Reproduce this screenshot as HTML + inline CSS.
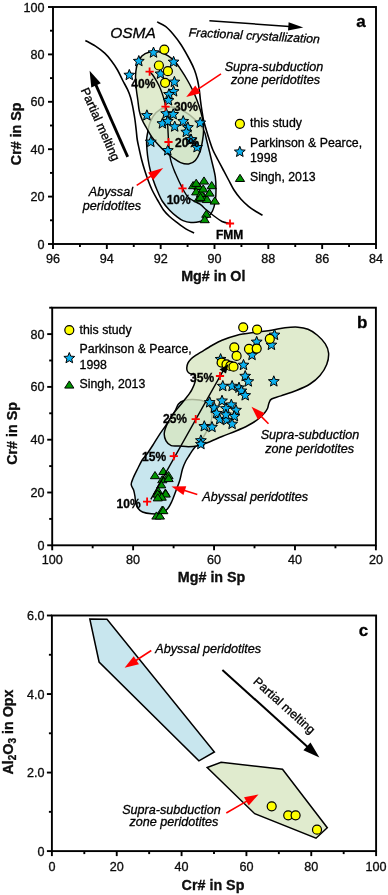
<!DOCTYPE html>
<html><head><meta charset="utf-8"><title>Figure</title>
<style>
html,body{margin:0;padding:0;background:#fff;}
body{width:388px;height:895px;overflow:hidden;}
svg{display:block;}
text{font-family:"Liberation Sans", Arial, sans-serif;stroke:#000;stroke-width:0.3px;}
.tk{font-size:12.60px;fill:#111;}
.ax{font-size:14.3px;font-weight:bold;fill:#111;}
.pl{font-size:17px;font-weight:bold;fill:#000;}
.it{font-style:italic;}
</style></head><body>
<svg width="388" height="895" viewBox="0 0 388 895">
<path d="M147.50,133.50 C148.07,130.58 148.55,126.00 150.00,122.50 C151.45,119.00 153.62,114.98 156.20,112.50 C158.78,110.02 161.90,108.32 165.50,107.60 C169.10,106.88 173.68,106.90 177.80,108.20 C181.92,109.50 186.58,112.68 190.20,115.40 C193.82,118.12 197.12,121.73 199.50,124.50 C201.88,127.27 203.32,129.42 204.50,132.00 C205.68,134.58 205.43,135.33 206.60,140.00 C207.77,144.67 210.05,153.87 211.50,160.00 C212.95,166.13 214.55,171.80 215.30,176.80 C216.05,181.80 216.00,185.97 216.00,190.00 C216.00,194.03 215.88,197.50 215.30,201.00 C214.72,204.50 213.88,208.17 212.50,211.00 C211.12,213.83 209.25,216.20 207.00,218.00 C204.75,219.80 201.68,221.07 199.00,221.80 C196.32,222.53 193.57,222.60 190.90,222.40 C188.23,222.20 185.35,221.57 183.00,220.60 C180.65,219.63 179.03,218.33 176.80,216.60 C174.57,214.87 172.03,212.80 169.60,210.20 C167.17,207.60 164.30,204.37 162.20,201.00 C160.10,197.63 158.50,193.50 157.00,190.00 C155.50,186.50 154.33,183.33 153.20,180.00 C152.07,176.67 151.03,173.33 150.20,170.00 C149.37,166.67 148.73,163.33 148.20,160.00 C147.67,156.67 147.27,153.33 147.00,150.00 C146.73,146.67 146.52,142.75 146.60,140.00 C146.68,137.25 146.93,136.42 147.50,133.50Z" fill="#c8e6ee" stroke="#000" stroke-width="1.5" stroke-linecap="butt"/>
<path d="M137.30,64.30 C138.32,61.63 139.85,58.05 141.90,56.00 C143.95,53.95 146.77,52.70 149.60,52.00 C152.43,51.30 155.80,51.17 158.90,51.80 C162.00,52.43 165.42,54.07 168.20,55.80 C170.98,57.53 173.43,59.80 175.60,62.20 C177.77,64.60 179.25,67.23 181.20,70.20 C183.15,73.17 185.40,76.70 187.30,80.00 C189.20,83.30 191.00,86.67 192.60,90.00 C194.20,93.33 195.62,96.67 196.90,100.00 C198.18,103.33 199.32,106.67 200.30,110.00 C201.28,113.33 202.25,116.67 202.80,120.00 C203.35,123.33 203.63,126.67 203.60,130.00 C203.57,133.33 203.20,136.37 202.60,140.00 C202.00,143.63 201.22,148.38 200.00,151.80 C198.78,155.22 197.20,158.47 195.30,160.50 C193.40,162.53 191.05,163.65 188.60,164.00 C186.15,164.35 183.28,163.68 180.60,162.60 C177.92,161.52 175.02,159.27 172.50,157.50 C169.98,155.73 167.83,154.07 165.50,152.00 C163.17,149.93 160.82,147.67 158.50,145.10 C156.18,142.53 153.60,139.45 151.60,136.60 C149.60,133.75 148.07,130.77 146.50,128.00 C144.93,125.23 143.40,122.83 142.20,120.00 C141.00,117.17 140.03,114.33 139.30,111.00 C138.57,107.67 138.28,103.50 137.80,100.00 C137.32,96.50 136.77,93.33 136.40,90.00 C136.03,86.67 135.70,83.00 135.60,80.00 C135.50,77.00 135.52,74.62 135.80,72.00 C136.08,69.38 136.28,66.97 137.30,64.30Z" fill="#d7e5c0" fill-opacity="0.78" stroke="none"/>
<path d="M137.30,64.30 C138.32,61.63 139.85,58.05 141.90,56.00 C143.95,53.95 146.77,52.70 149.60,52.00 C152.43,51.30 155.80,51.17 158.90,51.80 C162.00,52.43 165.42,54.07 168.20,55.80 C170.98,57.53 173.43,59.80 175.60,62.20 C177.77,64.60 179.25,67.23 181.20,70.20 C183.15,73.17 185.40,76.70 187.30,80.00 C189.20,83.30 191.00,86.67 192.60,90.00 C194.20,93.33 195.62,96.67 196.90,100.00 C198.18,103.33 199.32,106.67 200.30,110.00 C201.28,113.33 202.25,116.67 202.80,120.00 C203.35,123.33 203.63,126.67 203.60,130.00 C203.57,133.33 203.20,136.37 202.60,140.00 C202.00,143.63 201.22,148.38 200.00,151.80 C198.78,155.22 197.20,158.47 195.30,160.50 C193.40,162.53 191.05,163.65 188.60,164.00 C186.15,164.35 183.28,163.68 180.60,162.60 C177.92,161.52 175.02,159.27 172.50,157.50 C169.98,155.73 167.83,154.07 165.50,152.00 C163.17,149.93 160.82,147.67 158.50,145.10 C156.18,142.53 153.60,139.45 151.60,136.60 C149.60,133.75 148.07,130.77 146.50,128.00 C144.93,125.23 143.40,122.83 142.20,120.00 C141.00,117.17 140.03,114.33 139.30,111.00 C138.57,107.67 138.28,103.50 137.80,100.00 C137.32,96.50 136.77,93.33 136.40,90.00 C136.03,86.67 135.70,83.00 135.60,80.00 C135.50,77.00 135.52,74.62 135.80,72.00 C136.08,69.38 136.28,66.97 137.30,64.30Z" fill="none" stroke="#000" stroke-width="1.5"/>
<path d="M85.40,40.50 C87.08,41.45 92.28,44.08 95.50,46.20 C98.72,48.32 102.03,50.73 104.70,53.20 C107.37,55.67 109.37,58.20 111.50,61.00 C113.63,63.80 115.67,66.83 117.50,70.00 C119.33,73.17 120.82,76.72 122.50,80.00 C124.18,83.28 126.25,86.78 127.60,89.70 C128.95,92.62 129.80,94.92 130.60,97.50 C131.40,100.08 131.88,102.78 132.40,105.20 C132.92,107.62 133.27,109.53 133.70,112.00 C134.13,114.47 134.58,117.00 135.00,120.00 C135.42,123.00 135.82,126.67 136.20,130.00 C136.58,133.33 136.77,136.67 137.30,140.00 C137.83,143.33 138.67,146.67 139.40,150.00 C140.13,153.33 140.83,156.67 141.70,160.00 C142.57,163.33 143.55,166.67 144.60,170.00 C145.65,173.33 146.75,176.67 148.00,180.00 C149.25,183.33 150.52,186.67 152.10,190.00 C153.68,193.33 155.60,196.67 157.50,200.00 C159.40,203.33 161.50,207.25 163.50,210.00 C165.50,212.75 167.28,214.43 169.50,216.50 C171.72,218.57 174.08,220.33 176.80,222.40 C179.52,224.47 182.92,227.13 185.80,228.90 C188.68,230.67 192.72,232.32 194.10,233.00" fill="none" stroke="#000" stroke-width="1.6" stroke-linecap="butt"/>
<path d="M157.10,21.90 C158.50,22.65 162.82,24.35 165.50,26.40 C168.18,28.45 170.63,31.18 173.20,34.20 C175.77,37.22 178.13,40.20 180.90,44.50 C183.67,48.80 187.53,55.75 189.80,60.00 C192.07,64.25 193.22,66.67 194.50,70.00 C195.78,73.33 196.70,76.67 197.50,80.00 C198.30,83.33 198.82,86.67 199.30,90.00 C199.78,93.33 199.98,96.67 200.40,100.00 C200.82,103.33 201.28,106.67 201.80,110.00 C202.32,113.33 202.75,116.67 203.50,120.00 C204.25,123.33 205.32,126.67 206.30,130.00 C207.28,133.33 208.30,136.67 209.40,140.00 C210.50,143.33 211.47,146.67 212.90,150.00 C214.33,153.33 216.27,156.67 218.00,160.00 C219.73,163.33 221.53,166.67 223.30,170.00 C225.07,173.33 226.82,176.67 228.60,180.00 C230.38,183.33 231.97,186.83 234.00,190.00 C236.03,193.17 238.38,196.28 240.80,199.00 C243.22,201.72 246.05,204.27 248.50,206.30 C250.95,208.33 253.17,209.72 255.50,211.20 C257.83,212.68 261.33,214.53 262.50,215.20" fill="none" stroke="#000" stroke-width="1.6" stroke-linecap="butt"/>
<path d="M149.60,71.70 C150.12,72.25 151.53,73.43 152.70,75.00 C153.87,76.57 155.30,78.78 156.60,81.10 C157.90,83.42 159.40,86.32 160.50,88.90 C161.60,91.48 162.35,93.70 163.20,96.60 C164.05,99.50 164.87,101.73 165.60,106.30 C166.33,110.87 167.10,118.05 167.60,124.00 C168.10,129.95 168.10,136.05 168.60,142.00 C169.10,147.95 169.45,154.43 170.60,159.70 C171.75,164.97 173.52,168.83 175.50,173.60 C177.48,178.37 180.30,184.28 182.50,188.30 C184.70,192.32 185.78,195.05 188.70,197.70 C191.62,200.35 197.07,202.18 200.00,204.20 C202.93,206.22 203.97,207.83 206.30,209.80 C208.63,211.77 211.38,214.05 214.00,216.00 C216.62,217.95 219.33,220.25 222.00,221.50 C224.67,222.75 228.67,223.17 230.00,223.50" fill="none" stroke="#000" stroke-width="1.4" stroke-linecap="butt"/>
<polygon points="153.50,47.00 154.97,50.67 158.92,50.94 155.89,53.48 156.85,57.31 153.50,55.21 150.15,57.31 151.11,53.48 148.08,50.94 152.03,50.67" fill="#0bb0ee" stroke="#000" stroke-width="1" stroke-linejoin="miter"/>
<polygon points="138.80,55.50 140.27,59.17 144.22,59.44 141.19,61.98 142.15,65.81 138.80,63.71 135.45,65.81 136.41,61.98 133.38,59.44 137.33,59.17" fill="#0bb0ee" stroke="#000" stroke-width="1" stroke-linejoin="miter"/>
<polygon points="129.30,69.40 130.77,73.07 134.72,73.34 131.69,75.88 132.65,79.71 129.30,77.61 125.95,79.71 126.91,75.88 123.88,73.34 127.83,73.07" fill="#0bb0ee" stroke="#000" stroke-width="1" stroke-linejoin="miter"/>
<polygon points="173.60,56.30 175.07,59.97 179.02,60.24 175.99,62.78 176.95,66.61 173.60,64.51 170.25,66.61 171.21,62.78 168.18,60.24 172.13,59.97" fill="#0bb0ee" stroke="#000" stroke-width="1" stroke-linejoin="miter"/>
<polygon points="160.50,68.20 161.97,71.87 165.92,72.14 162.89,74.68 163.85,78.51 160.50,76.41 157.15,78.51 158.11,74.68 155.08,72.14 159.03,71.87" fill="#0bb0ee" stroke="#000" stroke-width="1" stroke-linejoin="miter"/>
<polygon points="174.40,76.30 175.87,79.97 179.82,80.24 176.79,82.78 177.75,86.61 174.40,84.51 171.05,86.61 172.01,82.78 168.98,80.24 172.93,79.97" fill="#0bb0ee" stroke="#000" stroke-width="1" stroke-linejoin="miter"/>
<polygon points="173.60,85.80 175.07,89.47 179.02,89.74 175.99,92.28 176.95,96.11 173.60,94.01 170.25,96.11 171.21,92.28 168.18,89.74 172.13,89.47" fill="#0bb0ee" stroke="#000" stroke-width="1" stroke-linejoin="miter"/>
<polygon points="169.00,88.70 170.47,92.37 174.42,92.64 171.39,95.18 172.35,99.01 169.00,96.91 165.65,99.01 166.61,95.18 163.58,92.64 167.53,92.37" fill="#0bb0ee" stroke="#000" stroke-width="1" stroke-linejoin="miter"/>
<polygon points="168.50,94.80 169.97,98.47 173.92,98.74 170.89,101.28 171.85,105.11 168.50,103.01 165.15,105.11 166.11,101.28 163.08,98.74 167.03,98.47" fill="#0bb0ee" stroke="#000" stroke-width="1" stroke-linejoin="miter"/>
<polygon points="166.20,107.90 167.67,111.57 171.62,111.84 168.59,114.38 169.55,118.21 166.20,116.11 162.85,118.21 163.81,114.38 160.78,111.84 164.73,111.57" fill="#0bb0ee" stroke="#000" stroke-width="1" stroke-linejoin="miter"/>
<polygon points="173.20,108.70 174.67,112.37 178.62,112.64 175.59,115.18 176.55,119.01 173.20,116.91 169.85,119.01 170.81,115.18 167.78,112.64 171.73,112.37" fill="#0bb0ee" stroke="#000" stroke-width="1" stroke-linejoin="miter"/>
<polygon points="162.40,117.90 163.87,121.57 167.82,121.84 164.79,124.38 165.75,128.21 162.40,126.11 159.05,128.21 160.01,124.38 156.98,121.84 160.93,121.57" fill="#0bb0ee" stroke="#000" stroke-width="1" stroke-linejoin="miter"/>
<polygon points="167.80,115.60 169.27,119.27 173.22,119.54 170.19,122.08 171.15,125.91 167.80,123.81 164.45,125.91 165.41,122.08 162.38,119.54 166.33,119.27" fill="#0bb0ee" stroke="#000" stroke-width="1" stroke-linejoin="miter"/>
<polygon points="174.70,121.00 176.17,124.67 180.12,124.94 177.09,127.48 178.05,131.31 174.70,129.21 171.35,131.31 172.31,127.48 169.28,124.94 173.23,124.67" fill="#0bb0ee" stroke="#000" stroke-width="1" stroke-linejoin="miter"/>
<polygon points="183.20,115.60 184.67,119.27 188.62,119.54 185.59,122.08 186.55,125.91 183.20,123.81 179.85,125.91 180.81,122.08 177.78,119.54 181.73,119.27" fill="#0bb0ee" stroke="#000" stroke-width="1" stroke-linejoin="miter"/>
<polygon points="187.90,121.80 189.37,125.47 193.32,125.74 190.29,128.28 191.25,132.11 187.90,130.01 184.55,132.11 185.51,128.28 182.48,125.74 186.43,125.47" fill="#0bb0ee" stroke="#000" stroke-width="1" stroke-linejoin="miter"/>
<polygon points="186.30,126.40 187.77,130.07 191.72,130.34 188.69,132.88 189.65,136.71 186.30,134.61 182.95,136.71 183.91,132.88 180.88,130.34 184.83,130.07" fill="#0bb0ee" stroke="#000" stroke-width="1" stroke-linejoin="miter"/>
<polygon points="200.20,117.20 201.67,120.87 205.62,121.14 202.59,123.68 203.55,127.51 200.20,125.41 196.85,127.51 197.81,123.68 194.78,121.14 198.73,120.87" fill="#0bb0ee" stroke="#000" stroke-width="1" stroke-linejoin="miter"/>
<polygon points="191.00,134.20 192.47,137.87 196.42,138.14 193.39,140.68 194.35,144.51 191.00,142.41 187.65,144.51 188.61,140.68 185.58,138.14 189.53,137.87" fill="#0bb0ee" stroke="#000" stroke-width="1" stroke-linejoin="miter"/>
<polygon points="146.90,109.80 148.37,113.47 152.32,113.74 149.29,116.28 150.25,120.11 146.90,118.01 143.55,120.11 144.51,116.28 141.48,113.74 145.43,113.47" fill="#0bb0ee" stroke="#000" stroke-width="1" stroke-linejoin="miter"/>
<polygon points="167.80,144.80 169.27,148.47 173.22,148.74 170.19,151.28 171.15,155.11 167.80,153.01 164.45,155.11 165.41,151.28 162.38,148.74 166.33,148.47" fill="#0bb0ee" stroke="#000" stroke-width="1" stroke-linejoin="miter"/>
<polygon points="197.10,141.70 198.57,145.37 202.52,145.64 199.49,148.18 200.45,152.01 197.10,149.91 193.75,152.01 194.71,148.18 191.68,145.64 195.63,145.37" fill="#0bb0ee" stroke="#000" stroke-width="1" stroke-linejoin="miter"/>
<polygon points="150.80,136.30 152.27,139.97 156.22,140.24 153.19,142.78 154.15,146.61 150.80,144.51 147.45,146.61 148.41,142.78 145.38,140.24 149.33,139.97" fill="#0bb0ee" stroke="#000" stroke-width="1" stroke-linejoin="miter"/>
<polygon points="191.00,133.90 192.47,137.57 196.42,137.84 193.39,140.38 194.35,144.21 191.00,142.11 187.65,144.21 188.61,140.38 185.58,137.84 189.53,137.57" fill="#0bb0ee" stroke="#000" stroke-width="1" stroke-linejoin="miter"/>
<circle cx="164.30" cy="49.60" r="4.5" fill="#ffff00" stroke="#000" stroke-width="1.2"/>
<circle cx="158.90" cy="65.50" r="4.5" fill="#ffff00" stroke="#000" stroke-width="1.2"/>
<circle cx="167.90" cy="71.20" r="4.5" fill="#ffff00" stroke="#000" stroke-width="1.2"/>
<circle cx="165.10" cy="82.80" r="4.5" fill="#ffff00" stroke="#000" stroke-width="1.2"/>
<polygon points="204.00,176.91 199.40,184.09 208.60,184.09" fill="#009400" stroke="#000" stroke-width="1" stroke-linejoin="miter"/>
<polygon points="193.10,181.51 188.50,188.69 197.70,188.69" fill="#009400" stroke="#000" stroke-width="1" stroke-linejoin="miter"/>
<polygon points="198.50,182.31 193.90,189.49 203.10,189.49" fill="#009400" stroke="#000" stroke-width="1" stroke-linejoin="miter"/>
<polygon points="196.20,187.71 191.60,194.89 200.80,194.89" fill="#009400" stroke="#000" stroke-width="1" stroke-linejoin="miter"/>
<polygon points="211.70,181.51 207.10,188.69 216.30,188.69" fill="#009400" stroke="#000" stroke-width="1" stroke-linejoin="miter"/>
<polygon points="198.50,194.61 193.90,201.79 203.10,201.79" fill="#009400" stroke="#000" stroke-width="1" stroke-linejoin="miter"/>
<polygon points="204.00,193.11 199.40,200.29 208.60,200.29" fill="#009400" stroke="#000" stroke-width="1" stroke-linejoin="miter"/>
<polygon points="207.00,195.41 202.40,202.59 211.60,202.59" fill="#009400" stroke="#000" stroke-width="1" stroke-linejoin="miter"/>
<polygon points="214.80,196.91 210.20,204.09 219.40,204.09" fill="#009400" stroke="#000" stroke-width="1" stroke-linejoin="miter"/>
<polygon points="206.30,210.11 201.70,217.29 210.90,217.29" fill="#009400" stroke="#000" stroke-width="1" stroke-linejoin="miter"/>
<polygon points="204.70,215.51 200.10,222.69 209.30,222.69" fill="#009400" stroke="#000" stroke-width="1" stroke-linejoin="miter"/>
<polygon points="196.20,179.21 191.60,186.39 200.80,186.39" fill="#009400" stroke="#000" stroke-width="1" stroke-linejoin="miter"/>
<polygon points="201.00,189.41 196.40,196.59 205.60,196.59" fill="#009400" stroke="#000" stroke-width="1" stroke-linejoin="miter"/>
<polygon points="203.20,184.91 198.60,192.09 207.80,192.09" fill="#009400" stroke="#000" stroke-width="1" stroke-linejoin="miter"/>
<polygon points="200.50,193.21 195.90,200.39 205.10,200.39" fill="#009400" stroke="#000" stroke-width="1" stroke-linejoin="miter"/>
<polygon points="209.50,188.91 204.90,196.09 214.10,196.09" fill="#009400" stroke="#000" stroke-width="1" stroke-linejoin="miter"/>
<path d="M145.50,71.70H153.70M149.60,67.60V75.80" stroke="#ff0000" stroke-width="1.8" fill="none"/>
<path d="M161.40,106.60H169.60M165.50,102.50V110.70" stroke="#ff0000" stroke-width="1.8" fill="none"/>
<path d="M164.40,142.00H172.60M168.50,137.90V146.10" stroke="#ff0000" stroke-width="1.8" fill="none"/>
<path d="M178.40,188.30H186.60M182.50,184.20V192.40" stroke="#ff0000" stroke-width="1.8" fill="none"/>
<path d="M225.90,223.50H234.10M230.00,219.40V227.60" stroke="#ff0000" stroke-width="1.8" fill="none"/>
<text x="143.30" y="88.20" font-size="12" font-weight="bold" text-anchor="middle" fill="#000">40%</text>
<text x="185.90" y="111.30" font-size="12" font-weight="bold" text-anchor="middle" fill="#000">30%</text>
<text x="187.10" y="146.60" font-size="12" font-weight="bold" text-anchor="middle" fill="#000">20%</text>
<text x="178.70" y="203.50" font-size="12" font-weight="bold" text-anchor="middle" fill="#000">10%</text>
<text x="229.60" y="239.00" font-size="12" font-weight="bold" text-anchor="middle" fill="#000">FMM</text>
<text x="133.00" y="38.10" font-size="15.5" font-style="italic" text-anchor="middle" fill="#000">OSMA</text>
<line x1="209.40" y1="20.80" x2="289.34" y2="26.50" stroke="#000" stroke-width="1.5"/>
<polygon points="303.30,27.50 288.04,30.62 288.64,22.24" fill="#000"/>
<text transform="translate(188.60,36.40) rotate(3)" font-size="12.3" font-style="italic" fill="#000">Fractional crystallization</text>
<line x1="127.70" y1="156.90" x2="95.66" y2="84.42" stroke="#000" stroke-width="2.8"/>
<polygon points="89.60,70.70 100.82,83.23 91.31,87.44" fill="#000"/>
<text transform="translate(80.60,90.00) rotate(66)" font-size="12.4" fill="#000">Partial melting</text>
<text x="274.00" y="71.30" font-size="12.6" font-style="italic" text-anchor="middle" fill="#000">Supra-subduction</text>
<text x="275.50" y="83.50" font-size="12.6" font-style="italic" text-anchor="middle" fill="#000">zone peridotites</text>
<line x1="221.00" y1="73.90" x2="197.02" y2="89.89" stroke="#ff0000" stroke-width="1.6"/>
<polygon points="186.20,97.10 195.30,85.51 200.40,93.16" fill="#ff0000"/>
<text x="110.90" y="195.60" font-size="12.6" font-style="italic" text-anchor="middle" fill="#000">Abyssal</text>
<text x="111.90" y="209.80" font-size="12.6" font-style="italic" text-anchor="middle" fill="#000">peridotites</text>
<line x1="136.70" y1="185.30" x2="151.46" y2="175.72" stroke="#ff0000" stroke-width="1.6"/>
<polygon points="163.20,168.10 153.12,180.12 148.11,172.41" fill="#ff0000"/>
<circle cx="239.90" cy="123.80" r="4.5" fill="#ffff00" stroke="#000" stroke-width="1.2"/>
<text x="250.00" y="127.00" font-size="12.3" fill="#000">this study</text>
<polygon points="239.80,146.20 241.27,149.87 245.22,150.14 242.19,152.68 243.15,156.51 239.80,154.41 236.45,156.51 237.41,152.68 234.38,150.14 238.33,149.87" fill="#0bb0ee" stroke="#000" stroke-width="1" stroke-linejoin="miter"/>
<text x="250.00" y="146.50" font-size="12.3" fill="#000">Parkinson &amp; Pearce,</text>
<text x="250.00" y="162.00" font-size="12.3" fill="#000">1998</text>
<polygon points="240.00,174.31 235.40,181.49 244.60,181.49" fill="#009400" stroke="#000" stroke-width="1" stroke-linejoin="miter"/>
<text x="250.00" y="180.50" font-size="12.3" fill="#000">Singh, 2013</text>
<path d="M192.50,399.60 C195.83,399.67 200.45,399.72 203.50,401.20 C206.55,402.68 209.42,405.70 210.80,408.50 C212.18,411.30 212.13,414.92 211.80,418.00 C211.47,421.08 210.10,424.00 208.80,427.00 C207.50,430.00 205.72,433.25 204.00,436.00 C202.28,438.75 200.25,441.33 198.50,443.50 C196.75,445.67 195.00,447.08 193.50,449.00 C192.00,450.92 190.78,453.00 189.50,455.00 C188.22,457.00 186.97,458.67 185.80,461.00 C184.63,463.33 183.50,465.80 182.50,469.00 C181.50,472.20 180.93,476.45 179.80,480.20 C178.67,483.95 177.03,487.95 175.70,491.50 C174.37,495.05 173.18,498.58 171.80,501.50 C170.42,504.42 169.20,507.03 167.40,509.00 C165.60,510.97 163.65,512.50 161.00,513.30 C158.35,514.10 154.58,514.02 151.50,513.80 C148.42,513.58 144.78,512.97 142.50,512.00 C140.22,511.03 138.95,509.67 137.80,508.00 C136.65,506.33 136.08,504.00 135.60,502.00 C135.12,500.00 135.23,498.00 134.90,496.00 C134.57,494.00 134.22,491.92 133.60,490.00 C132.98,488.08 131.27,486.50 131.20,484.50 C131.13,482.50 132.15,480.58 133.20,478.00 C134.25,475.42 136.00,472.00 137.50,469.00 C139.00,466.00 140.62,462.50 142.20,460.00 C143.78,457.50 145.17,456.57 147.00,454.00 C148.83,451.43 151.10,447.88 153.20,444.60 C155.30,441.32 157.38,437.65 159.60,434.30 C161.82,430.95 164.47,427.55 166.50,424.50 C168.53,421.45 170.25,418.50 171.80,416.00 C173.35,413.50 174.68,411.50 175.80,409.50 C176.92,407.50 177.22,405.45 178.50,404.00 C179.78,402.55 181.17,401.53 183.50,400.80 C185.83,400.07 189.17,399.53 192.50,399.60Z" fill="#c8e6ee" stroke="#000" stroke-width="1.5" stroke-linecap="butt"/>
<path d="M187.30,371.00 C186.85,370.03 186.70,368.90 186.80,367.60 C186.90,366.30 187.20,364.63 187.90,363.20 C188.60,361.77 189.65,360.33 191.00,359.00 C192.35,357.67 194.25,356.40 196.00,355.20 C197.75,354.00 198.85,353.42 201.50,351.80 C204.15,350.18 208.48,347.42 211.90,345.50 C215.32,343.58 217.80,342.02 222.00,340.30 C226.20,338.58 231.45,336.55 237.10,335.20 C242.75,333.85 250.18,333.03 255.90,332.20 C261.62,331.37 266.55,330.93 271.40,330.20 C276.25,329.47 280.57,328.30 285.00,327.80 C289.43,327.30 294.17,326.95 298.00,327.20 C301.83,327.45 304.77,327.97 308.00,329.30 C311.23,330.63 314.52,332.77 317.40,335.20 C320.28,337.63 323.43,340.92 325.30,343.90 C327.17,346.88 328.37,349.67 328.60,353.10 C328.83,356.53 328.13,360.77 326.70,364.50 C325.27,368.23 322.78,372.25 320.00,375.50 C317.22,378.75 313.93,381.50 310.00,384.00 C306.07,386.50 301.25,388.52 296.40,390.50 C291.55,392.48 285.03,394.48 280.90,395.90 C276.77,397.32 273.58,397.82 271.60,399.00 C269.62,400.18 269.67,401.47 269.00,403.00 C268.33,404.53 268.35,406.53 267.60,408.20 C266.85,409.87 266.15,411.12 264.50,413.00 C262.85,414.88 260.45,417.42 257.70,419.50 C254.95,421.58 251.62,423.58 248.00,425.50 C244.38,427.42 240.33,429.17 236.00,431.00 C231.67,432.83 226.67,434.58 222.00,436.50 C217.33,438.42 212.03,440.95 208.00,442.50 C203.97,444.05 201.05,445.08 197.80,445.80 C194.55,446.52 191.58,446.77 188.50,446.80 C185.42,446.83 182.18,446.20 179.30,446.00 C176.42,445.80 173.42,446.47 171.20,445.60 C168.98,444.73 167.15,442.90 166.00,440.80 C164.85,438.70 164.03,435.92 164.30,433.00 C164.57,430.08 166.05,426.53 167.60,423.30 C169.15,420.07 171.83,416.22 173.60,413.60 C175.37,410.98 176.75,409.40 178.20,407.60 C179.65,405.80 180.97,404.43 182.30,402.80 C183.63,401.17 185.02,399.33 186.20,397.80 C187.38,396.27 188.45,394.97 189.40,393.60 C190.35,392.23 191.10,391.10 191.90,389.60 C192.70,388.10 193.60,386.28 194.20,384.60 C194.80,382.92 195.37,380.97 195.50,379.50 C195.63,378.03 195.45,376.68 195.00,375.80 C194.55,374.92 193.72,374.60 192.80,374.20 C191.88,373.80 190.42,373.93 189.50,373.40 C188.58,372.87 187.75,371.97 187.30,371.00Z" fill="#d7e5c0" fill-opacity="0.78" stroke="none"/>
<path d="M187.30,371.00 C186.85,370.03 186.70,368.90 186.80,367.60 C186.90,366.30 187.20,364.63 187.90,363.20 C188.60,361.77 189.65,360.33 191.00,359.00 C192.35,357.67 194.25,356.40 196.00,355.20 C197.75,354.00 198.85,353.42 201.50,351.80 C204.15,350.18 208.48,347.42 211.90,345.50 C215.32,343.58 217.80,342.02 222.00,340.30 C226.20,338.58 231.45,336.55 237.10,335.20 C242.75,333.85 250.18,333.03 255.90,332.20 C261.62,331.37 266.55,330.93 271.40,330.20 C276.25,329.47 280.57,328.30 285.00,327.80 C289.43,327.30 294.17,326.95 298.00,327.20 C301.83,327.45 304.77,327.97 308.00,329.30 C311.23,330.63 314.52,332.77 317.40,335.20 C320.28,337.63 323.43,340.92 325.30,343.90 C327.17,346.88 328.37,349.67 328.60,353.10 C328.83,356.53 328.13,360.77 326.70,364.50 C325.27,368.23 322.78,372.25 320.00,375.50 C317.22,378.75 313.93,381.50 310.00,384.00 C306.07,386.50 301.25,388.52 296.40,390.50 C291.55,392.48 285.03,394.48 280.90,395.90 C276.77,397.32 273.58,397.82 271.60,399.00 C269.62,400.18 269.67,401.47 269.00,403.00 C268.33,404.53 268.35,406.53 267.60,408.20 C266.85,409.87 266.15,411.12 264.50,413.00 C262.85,414.88 260.45,417.42 257.70,419.50 C254.95,421.58 251.62,423.58 248.00,425.50 C244.38,427.42 240.33,429.17 236.00,431.00 C231.67,432.83 226.67,434.58 222.00,436.50 C217.33,438.42 212.03,440.95 208.00,442.50 C203.97,444.05 201.05,445.08 197.80,445.80 C194.55,446.52 191.58,446.77 188.50,446.80 C185.42,446.83 182.18,446.20 179.30,446.00 C176.42,445.80 173.42,446.47 171.20,445.60 C168.98,444.73 167.15,442.90 166.00,440.80 C164.85,438.70 164.03,435.92 164.30,433.00 C164.57,430.08 166.05,426.53 167.60,423.30 C169.15,420.07 171.83,416.22 173.60,413.60 C175.37,410.98 176.75,409.40 178.20,407.60 C179.65,405.80 180.97,404.43 182.30,402.80 C183.63,401.17 185.02,399.33 186.20,397.80 C187.38,396.27 188.45,394.97 189.40,393.60 C190.35,392.23 191.10,391.10 191.90,389.60 C192.70,388.10 193.60,386.28 194.20,384.60 C194.80,382.92 195.37,380.97 195.50,379.50 C195.63,378.03 195.45,376.68 195.00,375.80 C194.55,374.92 193.72,374.60 192.80,374.20 C191.88,373.80 190.42,373.93 189.50,373.40 C188.58,372.87 187.75,371.97 187.30,371.00Z" fill="none" stroke="#000" stroke-width="1.5"/>
<polygon points="155.00,471.51 150.40,478.69 159.60,478.69" fill="#009400" stroke="#000" stroke-width="1" stroke-linejoin="miter"/>
<polygon points="163.30,467.31 158.70,474.49 167.90,474.49" fill="#009400" stroke="#000" stroke-width="1" stroke-linejoin="miter"/>
<polygon points="168.50,471.51 163.90,478.69 173.10,478.69" fill="#009400" stroke="#000" stroke-width="1" stroke-linejoin="miter"/>
<polygon points="162.30,475.61 157.70,482.79 166.90,482.79" fill="#009400" stroke="#000" stroke-width="1" stroke-linejoin="miter"/>
<polygon points="161.20,480.71 156.60,487.89 165.80,487.89" fill="#009400" stroke="#000" stroke-width="1" stroke-linejoin="miter"/>
<polygon points="158.10,486.91 153.50,494.09 162.70,494.09" fill="#009400" stroke="#000" stroke-width="1" stroke-linejoin="miter"/>
<polygon points="165.40,489.01 160.80,496.19 170.00,496.19" fill="#009400" stroke="#000" stroke-width="1" stroke-linejoin="miter"/>
<polygon points="159.20,491.01 154.60,498.19 163.80,498.19" fill="#009400" stroke="#000" stroke-width="1" stroke-linejoin="miter"/>
<polygon points="157.60,489.91 153.00,497.09 162.20,497.09" fill="#009400" stroke="#000" stroke-width="1" stroke-linejoin="miter"/>
<polygon points="165.70,489.91 161.10,497.09 170.30,497.09" fill="#009400" stroke="#000" stroke-width="1" stroke-linejoin="miter"/>
<polygon points="161.70,493.01 157.10,500.19 166.30,500.19" fill="#009400" stroke="#000" stroke-width="1" stroke-linejoin="miter"/>
<polygon points="157.80,493.71 153.20,500.89 162.40,500.89" fill="#009400" stroke="#000" stroke-width="1" stroke-linejoin="miter"/>
<polygon points="168.60,474.41 164.00,481.59 173.20,481.59" fill="#009400" stroke="#000" stroke-width="1" stroke-linejoin="miter"/>
<polygon points="162.20,506.11 157.60,513.29 166.80,513.29" fill="#009400" stroke="#000" stroke-width="1" stroke-linejoin="miter"/>
<polygon points="156.40,511.91 151.80,519.09 161.00,519.09" fill="#009400" stroke="#000" stroke-width="1" stroke-linejoin="miter"/>
<polygon points="159.90,511.91 155.30,519.09 164.50,519.09" fill="#009400" stroke="#000" stroke-width="1" stroke-linejoin="miter"/>
<polygon points="163.30,506.51 158.70,513.69 167.90,513.69" fill="#009400" stroke="#000" stroke-width="1" stroke-linejoin="miter"/>
<line x1="150.8" y1="499.3" x2="224.5" y2="368.4" stroke="#000" stroke-width="1.4"/>
<polygon points="274.50,329.30 275.97,332.97 279.92,333.24 276.89,335.78 277.85,339.61 274.50,337.51 271.15,339.61 272.11,335.78 269.08,333.24 273.03,332.97" fill="#0bb0ee" stroke="#000" stroke-width="1" stroke-linejoin="miter"/>
<polygon points="256.70,336.30 258.17,339.97 262.12,340.24 259.09,342.78 260.05,346.61 256.70,344.51 253.35,346.61 254.31,342.78 251.28,340.24 255.23,339.97" fill="#0bb0ee" stroke="#000" stroke-width="1" stroke-linejoin="miter"/>
<polygon points="271.40,339.30 272.87,342.97 276.82,343.24 273.79,345.78 274.75,349.61 271.40,347.51 268.05,349.61 269.01,345.78 265.98,343.24 269.93,342.97" fill="#0bb0ee" stroke="#000" stroke-width="1" stroke-linejoin="miter"/>
<polygon points="252.00,349.40 253.47,353.07 257.42,353.34 254.39,355.88 255.35,359.71 252.00,357.61 248.65,359.71 249.61,355.88 246.58,353.34 250.53,353.07" fill="#0bb0ee" stroke="#000" stroke-width="1" stroke-linejoin="miter"/>
<polygon points="243.50,359.40 244.97,363.07 248.92,363.34 245.89,365.88 246.85,369.71 243.50,367.61 240.15,369.71 241.11,365.88 238.08,363.34 242.03,363.07" fill="#0bb0ee" stroke="#000" stroke-width="1" stroke-linejoin="miter"/>
<polygon points="220.60,353.60 222.07,357.27 226.02,357.54 222.99,360.08 223.95,363.91 220.60,361.81 217.25,363.91 218.21,360.08 215.18,357.54 219.13,357.27" fill="#0bb0ee" stroke="#000" stroke-width="1" stroke-linejoin="miter"/>
<polygon points="245.20,370.50 246.67,374.17 250.62,374.44 247.59,376.98 248.55,380.81 245.20,378.71 241.85,380.81 242.81,376.98 239.78,374.44 243.73,374.17" fill="#0bb0ee" stroke="#000" stroke-width="1" stroke-linejoin="miter"/>
<polygon points="248.30,375.90 249.77,379.57 253.72,379.84 250.69,382.38 251.65,386.21 248.30,384.11 244.95,386.21 245.91,382.38 242.88,379.84 246.83,379.57" fill="#0bb0ee" stroke="#000" stroke-width="1" stroke-linejoin="miter"/>
<polygon points="222.80,380.50 224.27,384.17 228.22,384.44 225.19,386.98 226.15,390.81 222.80,388.71 219.45,390.81 220.41,386.98 217.38,384.44 221.33,384.17" fill="#0bb0ee" stroke="#000" stroke-width="1" stroke-linejoin="miter"/>
<polygon points="232.10,380.50 233.57,384.17 237.52,384.44 234.49,386.98 235.45,390.81 232.10,388.71 228.75,390.81 229.71,386.98 226.68,384.44 230.63,384.17" fill="#0bb0ee" stroke="#000" stroke-width="1" stroke-linejoin="miter"/>
<polygon points="239.00,382.10 240.47,385.77 244.42,386.04 241.39,388.58 242.35,392.41 239.00,390.31 235.65,392.41 236.61,388.58 233.58,386.04 237.53,385.77" fill="#0bb0ee" stroke="#000" stroke-width="1" stroke-linejoin="miter"/>
<polygon points="241.40,385.20 242.87,388.87 246.82,389.14 243.79,391.68 244.75,395.51 241.40,393.41 238.05,395.51 239.01,391.68 235.98,389.14 239.93,388.87" fill="#0bb0ee" stroke="#000" stroke-width="1" stroke-linejoin="miter"/>
<polygon points="245.20,389.80 246.67,393.47 250.62,393.74 247.59,396.28 248.55,400.11 245.20,398.01 241.85,400.11 242.81,396.28 239.78,393.74 243.73,393.47" fill="#0bb0ee" stroke="#000" stroke-width="1" stroke-linejoin="miter"/>
<polygon points="273.80,375.80 275.27,379.47 279.22,379.74 276.19,382.28 277.15,386.11 273.80,384.01 270.45,386.11 271.41,382.28 268.38,379.74 272.33,379.47" fill="#0bb0ee" stroke="#000" stroke-width="1" stroke-linejoin="miter"/>
<polygon points="209.70,396.80 211.17,400.47 215.12,400.74 212.09,403.28 213.05,407.11 209.70,405.01 206.35,407.11 207.31,403.28 204.28,400.74 208.23,400.47" fill="#0bb0ee" stroke="#000" stroke-width="1" stroke-linejoin="miter"/>
<polygon points="222.00,395.20 223.47,398.87 227.42,399.14 224.39,401.68 225.35,405.51 222.00,403.41 218.65,405.51 219.61,401.68 216.58,399.14 220.53,398.87" fill="#0bb0ee" stroke="#000" stroke-width="1" stroke-linejoin="miter"/>
<polygon points="231.30,399.10 232.77,402.77 236.72,403.04 233.69,405.58 234.65,409.41 231.30,407.31 227.95,409.41 228.91,405.58 225.88,403.04 229.83,402.77" fill="#0bb0ee" stroke="#000" stroke-width="1" stroke-linejoin="miter"/>
<polygon points="214.30,402.20 215.77,405.87 219.72,406.14 216.69,408.68 217.65,412.51 214.30,410.41 210.95,412.51 211.91,408.68 208.88,406.14 212.83,405.87" fill="#0bb0ee" stroke="#000" stroke-width="1" stroke-linejoin="miter"/>
<polygon points="225.90,402.90 227.37,406.57 231.32,406.84 228.29,409.38 229.25,413.21 225.90,411.11 222.55,413.21 223.51,409.38 220.48,406.84 224.43,406.57" fill="#0bb0ee" stroke="#000" stroke-width="1" stroke-linejoin="miter"/>
<polygon points="236.00,404.50 237.47,408.17 241.42,408.44 238.39,410.98 239.35,414.81 236.00,412.71 232.65,414.81 233.61,410.98 230.58,408.44 234.53,408.17" fill="#0bb0ee" stroke="#000" stroke-width="1" stroke-linejoin="miter"/>
<polygon points="216.60,407.60 218.07,411.27 222.02,411.54 218.99,414.08 219.95,417.91 216.60,415.81 213.25,417.91 214.21,414.08 211.18,411.54 215.13,411.27" fill="#0bb0ee" stroke="#000" stroke-width="1" stroke-linejoin="miter"/>
<polygon points="234.40,410.70 235.87,414.37 239.82,414.64 236.79,417.18 237.75,421.01 234.40,418.91 231.05,421.01 232.01,417.18 228.98,414.64 232.93,414.37" fill="#0bb0ee" stroke="#000" stroke-width="1" stroke-linejoin="miter"/>
<polygon points="219.70,413.80 221.17,417.47 225.12,417.74 222.09,420.28 223.05,424.11 219.70,422.01 216.35,424.11 217.31,420.28 214.28,417.74 218.23,417.47" fill="#0bb0ee" stroke="#000" stroke-width="1" stroke-linejoin="miter"/>
<polygon points="226.70,414.50 228.17,418.17 232.12,418.44 229.09,420.98 230.05,424.81 226.70,422.71 223.35,424.81 224.31,420.98 221.28,418.44 225.23,418.17" fill="#0bb0ee" stroke="#000" stroke-width="1" stroke-linejoin="miter"/>
<polygon points="232.10,418.40 233.57,422.07 237.52,422.34 234.49,424.88 235.45,428.71 232.10,426.61 228.75,428.71 229.71,424.88 226.68,422.34 230.63,422.07" fill="#0bb0ee" stroke="#000" stroke-width="1" stroke-linejoin="miter"/>
<polygon points="204.30,420.70 205.77,424.37 209.72,424.64 206.69,427.18 207.65,431.01 204.30,428.91 200.95,431.01 201.91,427.18 198.88,424.64 202.83,424.37" fill="#0bb0ee" stroke="#000" stroke-width="1" stroke-linejoin="miter"/>
<polygon points="212.00,421.50 213.47,425.17 217.42,425.44 214.39,427.98 215.35,431.81 212.00,429.71 208.65,431.81 209.61,427.98 206.58,425.44 210.53,425.17" fill="#0bb0ee" stroke="#000" stroke-width="1" stroke-linejoin="miter"/>
<polygon points="225.90,409.10 227.37,412.77 231.32,413.04 228.29,415.58 229.25,419.41 225.90,417.31 222.55,419.41 223.51,415.58 220.48,413.04 224.43,412.77" fill="#0bb0ee" stroke="#000" stroke-width="1" stroke-linejoin="miter"/>
<polygon points="200.90,434.90 202.37,438.57 206.32,438.84 203.29,441.38 204.25,445.21 200.90,443.11 197.55,445.21 198.51,441.38 195.48,438.84 199.43,438.57" fill="#0bb0ee" stroke="#000" stroke-width="1" stroke-linejoin="miter"/>
<polygon points="200.90,438.50 202.37,442.17 206.32,442.44 203.29,444.98 204.25,448.81 200.90,446.71 197.55,448.81 198.51,444.98 195.48,442.44 199.43,442.17" fill="#0bb0ee" stroke="#000" stroke-width="1" stroke-linejoin="miter"/>
<circle cx="243.20" cy="327.30" r="4.5" fill="#ffff00" stroke="#000" stroke-width="1.2"/>
<circle cx="257.10" cy="329.60" r="4.5" fill="#ffff00" stroke="#000" stroke-width="1.2"/>
<circle cx="269.80" cy="338.90" r="4.5" fill="#ffff00" stroke="#000" stroke-width="1.2"/>
<circle cx="234.30" cy="347.40" r="4.5" fill="#ffff00" stroke="#000" stroke-width="1.2"/>
<circle cx="249.00" cy="348.90" r="4.5" fill="#ffff00" stroke="#000" stroke-width="1.2"/>
<circle cx="256.70" cy="348.60" r="4.5" fill="#ffff00" stroke="#000" stroke-width="1.2"/>
<circle cx="236.60" cy="355.90" r="4.5" fill="#ffff00" stroke="#000" stroke-width="1.2"/>
<circle cx="221.60" cy="362.60" r="4.5" fill="#ffff00" stroke="#000" stroke-width="1.2"/>
<circle cx="226.50" cy="364.40" r="4.5" fill="#ffff00" stroke="#000" stroke-width="1.2"/>
<circle cx="230.40" cy="365.90" r="4.5" fill="#ffff00" stroke="#000" stroke-width="1.2"/>
<circle cx="233.50" cy="366.70" r="4.5" fill="#ffff00" stroke="#000" stroke-width="1.2"/>
<polygon points="228.5,364 219.5,369.5 226,373.5" fill="#000"/>
<path d="M143.00,501.60H151.20M147.10,497.50V505.70" stroke="#ff0000" stroke-width="1.8" fill="none"/>
<path d="M169.70,456.20H177.90M173.80,452.10V460.30" stroke="#ff0000" stroke-width="1.8" fill="none"/>
<path d="M191.60,419.20H199.80M195.70,415.10V423.30" stroke="#ff0000" stroke-width="1.8" fill="none"/>
<path d="M215.90,376.00H224.10M220.00,371.90V380.10" stroke="#ff0000" stroke-width="1.8" fill="none"/>
<text x="202.10" y="381.50" font-size="12" font-weight="bold" text-anchor="middle" fill="#000">35%</text>
<text x="175.00" y="423.30" font-size="12" font-weight="bold" text-anchor="middle" fill="#000">25%</text>
<text x="154.10" y="461.40" font-size="12" font-weight="bold" text-anchor="middle" fill="#000">15%</text>
<text x="128.60" y="508.10" font-size="12" font-weight="bold" text-anchor="middle" fill="#000">10%</text>
<text x="310.00" y="438.60" font-size="12.6" font-style="italic" text-anchor="middle" fill="#000">Supra-subduction</text>
<text x="309.60" y="452.50" font-size="12.6" font-style="italic" text-anchor="middle" fill="#000">zone peridotites</text>
<line x1="268.50" y1="423.70" x2="260.69" y2="415.89" stroke="#ff0000" stroke-width="1.6"/>
<polygon points="251.50,406.70 264.72,413.28 258.08,419.92" fill="#ff0000"/>
<text x="255.20" y="501.00" font-size="12.6" font-style="italic" text-anchor="middle" fill="#000">Abyssal peridotites</text>
<line x1="197.30" y1="494.60" x2="183.89" y2="490.34" stroke="#ff0000" stroke-width="1.6"/>
<polygon points="171.50,486.40 186.27,486.16 183.42,495.12" fill="#ff0000"/>
<circle cx="69.30" cy="330.10" r="4.5" fill="#ffff00" stroke="#000" stroke-width="1.2"/>
<text x="79.60" y="333.70" font-size="12.3" fill="#000">this study</text>
<polygon points="69.30,352.50 70.77,356.17 74.72,356.44 71.69,358.98 72.65,362.81 69.30,360.71 65.95,362.81 66.91,358.98 63.88,356.44 67.83,356.17" fill="#0bb0ee" stroke="#000" stroke-width="1" stroke-linejoin="miter"/>
<text x="79.60" y="353.30" font-size="12.3" fill="#000">Parkinson &amp; Pearce,</text>
<text x="79.60" y="368.80" font-size="12.3" fill="#000">1998</text>
<polygon points="69.30,380.91 64.70,388.09 73.90,388.09" fill="#009400" stroke="#000" stroke-width="1" stroke-linejoin="miter"/>
<text x="79.60" y="387.80" font-size="12.3" fill="#000">Singh, 2013</text>
<polygon points="89.8,619 107,619.2 214.4,752 198.9,760.8 99.1,662" fill="#c8e6ee" stroke="#000" stroke-width="1.5" stroke-linejoin="miter"/>
<polygon points="207.2,767.5 221.1,762.3 282.5,769.2 327.3,827.7 316,838.2 254.7,813.7" fill="#e0ebce" stroke="#000" stroke-width="1.5" stroke-linejoin="miter"/>
<circle cx="271.70" cy="806.30" r="4.5" fill="#ffff00" stroke="#000" stroke-width="1.2"/>
<circle cx="288.20" cy="815.30" r="4.5" fill="#ffff00" stroke="#000" stroke-width="1.2"/>
<circle cx="295.60" cy="815.30" r="4.5" fill="#ffff00" stroke="#000" stroke-width="1.2"/>
<circle cx="317.00" cy="829.70" r="4.5" fill="#ffff00" stroke="#000" stroke-width="1.2"/>
<text x="208.20" y="653.00" font-size="12.6" font-style="italic" text-anchor="middle" fill="#000">Abyssal peridotites</text>
<line x1="151.30" y1="650.50" x2="135.51" y2="660.73" stroke="#ff0000" stroke-width="1.6"/>
<polygon points="124.60,667.80 133.74,656.16 138.96,664.22" fill="#ff0000"/>
<line x1="222.40" y1="669.90" x2="307.68" y2="747.00" stroke="#000" stroke-width="2"/>
<polygon points="319.40,757.60 303.38,750.26 310.49,742.40" fill="#000"/>
<text transform="translate(252.60,682.60) rotate(41.9)" font-size="12.3" fill="#000">Partial melting</text>
<text x="171.50" y="813.80" font-size="12.6" font-style="italic" text-anchor="middle" fill="#000">Supra-subduction</text>
<text x="173.90" y="826.20" font-size="12.6" font-style="italic" text-anchor="middle" fill="#000">zone peridotites</text>
<line x1="226.30" y1="813.00" x2="247.24" y2="800.90" stroke="#ff0000" stroke-width="1.6"/>
<polygon points="258.50,794.40 248.78,805.56 243.98,797.25" fill="#ff0000"/>
<rect x="53.00" y="7.00" width="323.00" height="237.00" fill="none" stroke="#000" stroke-width="1.9"/>
<line x1="48.00" y1="244.00" x2="53.00" y2="244.00" stroke="#000" stroke-width="1.9"/>
<text x="44.60" y="248.50" text-anchor="end" class="tk">0</text>
<line x1="48.00" y1="196.60" x2="53.00" y2="196.60" stroke="#000" stroke-width="1.9"/>
<text x="44.60" y="201.10" text-anchor="end" class="tk">20</text>
<line x1="48.00" y1="149.20" x2="53.00" y2="149.20" stroke="#000" stroke-width="1.9"/>
<text x="44.60" y="153.70" text-anchor="end" class="tk">40</text>
<line x1="48.00" y1="101.80" x2="53.00" y2="101.80" stroke="#000" stroke-width="1.9"/>
<text x="44.60" y="106.30" text-anchor="end" class="tk">60</text>
<line x1="48.00" y1="54.40" x2="53.00" y2="54.40" stroke="#000" stroke-width="1.9"/>
<text x="44.60" y="58.90" text-anchor="end" class="tk">80</text>
<line x1="48.00" y1="7.00" x2="53.00" y2="7.00" stroke="#000" stroke-width="1.9"/>
<text x="44.60" y="11.50" text-anchor="end" class="tk">100</text>
<line x1="50.00" y1="220.30" x2="53.00" y2="220.30" stroke="#000" stroke-width="1.9"/>
<line x1="50.00" y1="172.90" x2="53.00" y2="172.90" stroke="#000" stroke-width="1.9"/>
<line x1="50.00" y1="125.50" x2="53.00" y2="125.50" stroke="#000" stroke-width="1.9"/>
<line x1="50.00" y1="78.10" x2="53.00" y2="78.10" stroke="#000" stroke-width="1.9"/>
<line x1="50.00" y1="30.70" x2="53.00" y2="30.70" stroke="#000" stroke-width="1.9"/>
<line x1="53.00" y1="244.00" x2="53.00" y2="249.00" stroke="#000" stroke-width="1.9"/>
<text x="53.00" y="262.70" text-anchor="middle" class="tk">96</text>
<line x1="106.83" y1="244.00" x2="106.83" y2="249.00" stroke="#000" stroke-width="1.9"/>
<text x="106.83" y="262.70" text-anchor="middle" class="tk">94</text>
<line x1="160.67" y1="244.00" x2="160.67" y2="249.00" stroke="#000" stroke-width="1.9"/>
<text x="160.67" y="262.70" text-anchor="middle" class="tk">92</text>
<line x1="214.50" y1="244.00" x2="214.50" y2="249.00" stroke="#000" stroke-width="1.9"/>
<text x="214.50" y="262.70" text-anchor="middle" class="tk">90</text>
<line x1="268.33" y1="244.00" x2="268.33" y2="249.00" stroke="#000" stroke-width="1.9"/>
<text x="268.33" y="262.70" text-anchor="middle" class="tk">88</text>
<line x1="322.17" y1="244.00" x2="322.17" y2="249.00" stroke="#000" stroke-width="1.9"/>
<text x="322.17" y="262.70" text-anchor="middle" class="tk">86</text>
<line x1="376.00" y1="244.00" x2="376.00" y2="249.00" stroke="#000" stroke-width="1.9"/>
<text x="376.00" y="262.70" text-anchor="middle" class="tk">84</text>
<line x1="79.92" y1="244.00" x2="79.92" y2="247.00" stroke="#000" stroke-width="1.9"/>
<line x1="133.75" y1="244.00" x2="133.75" y2="247.00" stroke="#000" stroke-width="1.9"/>
<line x1="187.58" y1="244.00" x2="187.58" y2="247.00" stroke="#000" stroke-width="1.9"/>
<line x1="241.42" y1="244.00" x2="241.42" y2="247.00" stroke="#000" stroke-width="1.9"/>
<line x1="295.25" y1="244.00" x2="295.25" y2="247.00" stroke="#000" stroke-width="1.9"/>
<line x1="349.08" y1="244.00" x2="349.08" y2="247.00" stroke="#000" stroke-width="1.9"/>
<text x="213.3" y="281" text-anchor="middle" class="ax">Mg# in Ol</text>
<text transform="translate(20.5,133.8) rotate(-90)" text-anchor="middle" class="ax">Cr# in Sp</text>
<text x="361" y="26.5" text-anchor="middle" class="pl">a</text>
<rect x="52.20" y="307.70" width="323.70" height="237.60" fill="none" stroke="#000" stroke-width="1.9"/>
<line x1="47.20" y1="545.30" x2="52.20" y2="545.30" stroke="#000" stroke-width="1.9"/>
<text x="44.60" y="549.80" text-anchor="end" class="tk">0</text>
<line x1="47.20" y1="492.50" x2="52.20" y2="492.50" stroke="#000" stroke-width="1.9"/>
<text x="44.60" y="497.00" text-anchor="end" class="tk">20</text>
<line x1="47.20" y1="439.70" x2="52.20" y2="439.70" stroke="#000" stroke-width="1.9"/>
<text x="44.60" y="444.20" text-anchor="end" class="tk">40</text>
<line x1="47.20" y1="386.90" x2="52.20" y2="386.90" stroke="#000" stroke-width="1.9"/>
<text x="44.60" y="391.40" text-anchor="end" class="tk">60</text>
<line x1="47.20" y1="334.10" x2="52.20" y2="334.10" stroke="#000" stroke-width="1.9"/>
<text x="44.60" y="338.60" text-anchor="end" class="tk">80</text>
<line x1="49.20" y1="518.90" x2="52.20" y2="518.90" stroke="#000" stroke-width="1.9"/>
<line x1="49.20" y1="466.10" x2="52.20" y2="466.10" stroke="#000" stroke-width="1.9"/>
<line x1="49.20" y1="413.30" x2="52.20" y2="413.30" stroke="#000" stroke-width="1.9"/>
<line x1="49.20" y1="360.50" x2="52.20" y2="360.50" stroke="#000" stroke-width="1.9"/>
<line x1="49.20" y1="307.70" x2="52.20" y2="307.70" stroke="#000" stroke-width="1.9"/>
<line x1="52.20" y1="545.30" x2="52.20" y2="550.30" stroke="#000" stroke-width="1.9"/>
<text x="52.20" y="564.40" text-anchor="middle" class="tk">100</text>
<line x1="133.12" y1="545.30" x2="133.12" y2="550.30" stroke="#000" stroke-width="1.9"/>
<text x="133.12" y="564.40" text-anchor="middle" class="tk">80</text>
<line x1="214.05" y1="545.30" x2="214.05" y2="550.30" stroke="#000" stroke-width="1.9"/>
<text x="214.05" y="564.40" text-anchor="middle" class="tk">60</text>
<line x1="294.98" y1="545.30" x2="294.98" y2="550.30" stroke="#000" stroke-width="1.9"/>
<text x="294.98" y="564.40" text-anchor="middle" class="tk">40</text>
<line x1="375.90" y1="545.30" x2="375.90" y2="550.30" stroke="#000" stroke-width="1.9"/>
<text x="375.90" y="564.40" text-anchor="middle" class="tk">20</text>
<line x1="92.66" y1="545.30" x2="92.66" y2="548.30" stroke="#000" stroke-width="1.9"/>
<line x1="173.59" y1="545.30" x2="173.59" y2="548.30" stroke="#000" stroke-width="1.9"/>
<line x1="254.51" y1="545.30" x2="254.51" y2="548.30" stroke="#000" stroke-width="1.9"/>
<line x1="335.44" y1="545.30" x2="335.44" y2="548.30" stroke="#000" stroke-width="1.9"/>
<text x="211.6" y="582.2" text-anchor="middle" class="ax">Mg# in Sp</text>
<text transform="translate(16.8,433.4) rotate(-90)" text-anchor="middle" class="ax">Cr# in Sp</text>
<text x="362.3" y="328" text-anchor="middle" class="pl">b</text>
<rect x="51.90" y="615.50" width="324.20" height="235.60" fill="none" stroke="#000" stroke-width="1.9"/>
<line x1="46.90" y1="851.10" x2="51.90" y2="851.10" stroke="#000" stroke-width="1.9"/>
<text x="44.60" y="855.60" text-anchor="end" class="tk">0</text>
<line x1="46.90" y1="772.57" x2="51.90" y2="772.57" stroke="#000" stroke-width="1.9"/>
<text x="44.60" y="777.07" text-anchor="end" class="tk">2.0</text>
<line x1="46.90" y1="694.03" x2="51.90" y2="694.03" stroke="#000" stroke-width="1.9"/>
<text x="44.60" y="698.53" text-anchor="end" class="tk">4.0</text>
<line x1="46.90" y1="615.50" x2="51.90" y2="615.50" stroke="#000" stroke-width="1.9"/>
<text x="44.60" y="620.00" text-anchor="end" class="tk">6.0</text>
<line x1="48.90" y1="811.83" x2="51.90" y2="811.83" stroke="#000" stroke-width="1.9"/>
<line x1="48.90" y1="733.30" x2="51.90" y2="733.30" stroke="#000" stroke-width="1.9"/>
<line x1="48.90" y1="654.77" x2="51.90" y2="654.77" stroke="#000" stroke-width="1.9"/>
<line x1="51.90" y1="851.10" x2="51.90" y2="856.10" stroke="#000" stroke-width="1.9"/>
<text x="51.90" y="870.60" text-anchor="middle" class="tk">0</text>
<line x1="116.74" y1="851.10" x2="116.74" y2="856.10" stroke="#000" stroke-width="1.9"/>
<text x="116.74" y="870.60" text-anchor="middle" class="tk">20</text>
<line x1="181.58" y1="851.10" x2="181.58" y2="856.10" stroke="#000" stroke-width="1.9"/>
<text x="181.58" y="870.60" text-anchor="middle" class="tk">40</text>
<line x1="246.42" y1="851.10" x2="246.42" y2="856.10" stroke="#000" stroke-width="1.9"/>
<text x="246.42" y="870.60" text-anchor="middle" class="tk">60</text>
<line x1="311.26" y1="851.10" x2="311.26" y2="856.10" stroke="#000" stroke-width="1.9"/>
<text x="311.26" y="870.60" text-anchor="middle" class="tk">80</text>
<line x1="376.10" y1="851.10" x2="376.10" y2="856.10" stroke="#000" stroke-width="1.9"/>
<text x="376.10" y="870.60" text-anchor="middle" class="tk">100</text>
<line x1="84.32" y1="851.10" x2="84.32" y2="854.10" stroke="#000" stroke-width="1.9"/>
<line x1="149.16" y1="851.10" x2="149.16" y2="854.10" stroke="#000" stroke-width="1.9"/>
<line x1="214.00" y1="851.10" x2="214.00" y2="854.10" stroke="#000" stroke-width="1.9"/>
<line x1="278.84" y1="851.10" x2="278.84" y2="854.10" stroke="#000" stroke-width="1.9"/>
<line x1="343.68" y1="851.10" x2="343.68" y2="854.10" stroke="#000" stroke-width="1.9"/>
<text x="213" y="890" text-anchor="middle" class="ax">Cr# in Sp</text>
<text transform="translate(12.7,732) rotate(-90)" text-anchor="middle" class="ax">Al<tspan font-size="10" dy="3">2</tspan><tspan dy="-3">O</tspan><tspan font-size="10" dy="3">3</tspan><tspan dy="-3"> in Opx</tspan></text>
<text x="363.4" y="636.4" text-anchor="middle" class="pl">c</text>
</svg>
</body></html>
